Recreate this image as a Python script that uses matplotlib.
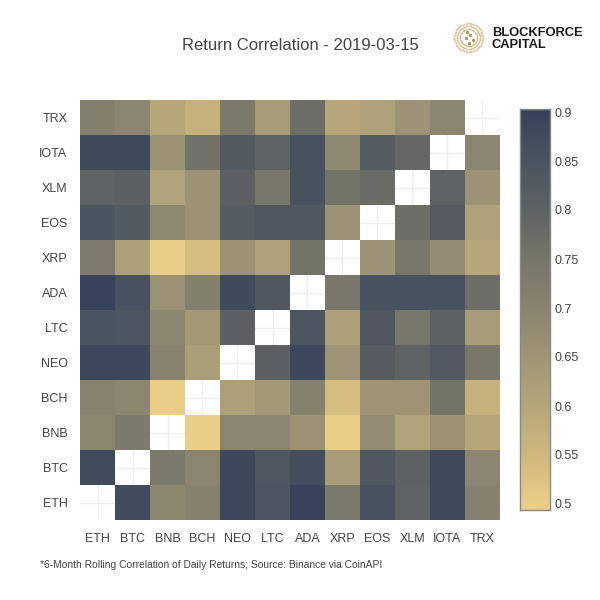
import numpy as np
import matplotlib
matplotlib.use("Agg")
import matplotlib.pyplot as plt
from matplotlib.colors import LinearSegmentedColormap

plt.rcParams['font.family'] = ['Liberation Sans', 'DejaVu Sans']

coins = ["ETH", "BTC", "BNB", "BCH", "NEO", "LTC", "ADA", "XRP", "EOS", "XLM", "IOTA", "TRX"]
nan = np.nan
corr_ETH = [nan, 0.875, 0.695, 0.71, 0.885, 0.845, 0.90, 0.74, 0.86, 0.80, 0.88, 0.71]
corr_BTC = [0.875, nan, 0.74, 0.70, 0.885, 0.84, 0.87, 0.63, 0.84, 0.805, 0.88, 0.70]
corr_BNB = [0.695, 0.735, nan, 0.50, 0.70, 0.70, 0.665, 0.50, 0.68, 0.61, 0.665, 0.60]
corr_BCH = [0.705, 0.695, 0.50, nan, 0.62, 0.64, 0.71, 0.54, 0.655, 0.655, 0.755, 0.57]
corr_NEO = [0.885, 0.885, 0.705, 0.625, nan, 0.81, 0.885, 0.655, 0.825, 0.80, 0.835, 0.745]
corr_LTC = [0.85, 0.845, 0.695, 0.64, 0.81, nan, 0.845, 0.62, 0.84, 0.75, 0.805, 0.63]
corr_ADA = [0.90, 0.86, 0.665, 0.715, 0.88, 0.84, nan, 0.745, 0.86, 0.86, 0.86, 0.77]
corr_XRP = [0.73, 0.62, 0.50, 0.54, 0.66, 0.615, 0.755, nan, 0.66, 0.745, 0.68, 0.60]
corr_EOS = [0.85, 0.83, 0.69, 0.66, 0.82, 0.84, 0.84, 0.66, nan, 0.77, 0.82, 0.615]
corr_XLM = [0.80, 0.81, 0.61, 0.66, 0.81, 0.745, 0.86, 0.755, 0.775, nan, 0.80, 0.66]
corr_IOTA = [0.88, 0.88, 0.66, 0.76, 0.83, 0.80, 0.86, 0.69, 0.82, 0.79, nan, 0.70]
corr_TRX = [0.72, 0.70, 0.60, 0.57, 0.74, 0.63, 0.77, 0.60, 0.615, 0.66, 0.70, nan]

cb_ticks = [0.5, 0.55, 0.6, 0.65, 0.7, 0.75, 0.8, 0.85, 0.9]
cb_labels = ["0.5", "0.55", "0.6", "0.65", "0.7", "0.75", "0.8", "0.85", "0.9"]

Z = np.array([corr_ETH, corr_BTC, corr_BNB, corr_BCH, corr_NEO, corr_LTC,
              corr_ADA, corr_XRP, corr_EOS, corr_XLM, corr_IOTA, corr_TRX])

cmap = LinearSegmentedColormap.from_list("bf", [
    (0.0, "#EACD86"), (0.125, "#CFB87E"), (0.25, "#B5A67A"), (0.375, "#A09676"),
    (0.5, "#8A8470"), (0.625, "#767669"), (0.75, "#5E6364"), (0.875, "#4B5560"),
    (1.0, "#37435A")])
vmin, vmax = 0.5, 0.9

fig = plt.figure(figsize=(6, 6), dpi=100)
ax = fig.add_axes([80/600, 80/600, 420/600, 420/600])
n = len(coins)
x = np.arange(n)
mesh = ax.pcolormesh(np.arange(n + 1) - 0.5, np.arange(n + 1) - 0.5,
                     np.ma.masked_invalid(Z), cmap=cmap, vmin=vmin, vmax=vmax)
ax.set_xlim(-0.5, n - 0.5)
ax.set_ylim(-0.5, n - 0.5)
ax.set_xticks(x)
ax.set_xticklabels(coins)
ax.set_yticks(x)
ax.set_yticklabels(coins)
ax.set_axisbelow(True)
ax.grid(True, color="#EEEEEE", linewidth=1)
ax.tick_params(length=0, labelsize=9, colors="#444444", pad=9)
for s in ax.spines.values():
    s.set_visible(False)

# colorbar (box 109..510 px, ticks 0.9 at 112 px, 0.5 at 504 px)
per_px = (vmax - vmin) / (504 - 112)
lo = vmin - (510 - 504) * per_px
hi = vmax + (112 - 109) * per_px
cax = fig.add_axes([520/600, 90/600, 30/600, 401/600])
grad = np.linspace(lo, hi, 400).reshape(-1, 1)
cax.imshow(grad, aspect="auto", origin="lower", extent=[0, 1, lo, hi],
           cmap=cmap, vmin=vmin, vmax=vmax)
cax.set_ylim(lo, hi)
cax.set_xlim(0, 1)
cax.set_xticks([])
cax.yaxis.tick_right()
cax.set_yticks(cb_ticks)
cax.set_yticklabels(cb_labels)
cax.tick_params(length=0, labelsize=9, colors="#444444", pad=3)
for s in cax.spines.values():
    s.set_edgecolor("#888888")
    s.set_linewidth(1)

fig.text(300/600, 1 - 45/600, "Return Correlation - 2019-03-15", ha="center", va="center",
         fontsize=12, color="#444444")
fig.text(40/600, 1 - 565/600, "*6-Month Rolling Correlation of Daily Returns; Source: Binance via CoinAPI",
         ha="left", va="center", fontsize=7.4, color="#444444")

# logo
fig.text(492/600, 1 - 33.5/600, "BLOCKFORCE", ha="left", va="center", fontsize=9.3,
         fontweight="bold", color="#1a1a1a")
fig.text(492/600, 1 - 44.5/600, "CAPITAL", ha="left", va="center", fontsize=9.3,
         fontweight="bold", color="#1a1a1a")
lax = fig.add_axes([453/600, 1 - 53/600, 31/600, 31/600])
lax.set_xlim(-1.1, 1.1)
lax.set_ylim(-1.1, 1.1)
lax.axis("off")
th = np.linspace(0, 2 * np.pi, 60, endpoint=False)
for r, sz in [(1.0, 2.0), (0.8, 1.6), (0.6, 1.3)]:
    lax.scatter(r * np.cos(th), r * np.sin(th), s=sz, color="#D2B580", alpha=0.7, linewidths=0)
lax.scatter([0.1, -0.2, 0.3, 0.0, -0.1], [0.2, 0.0, -0.2, -0.4, 0.4], s=6, color="#B8955A", linewidths=0)

fig.savefig("out.png", dpi=100, facecolor="white")
